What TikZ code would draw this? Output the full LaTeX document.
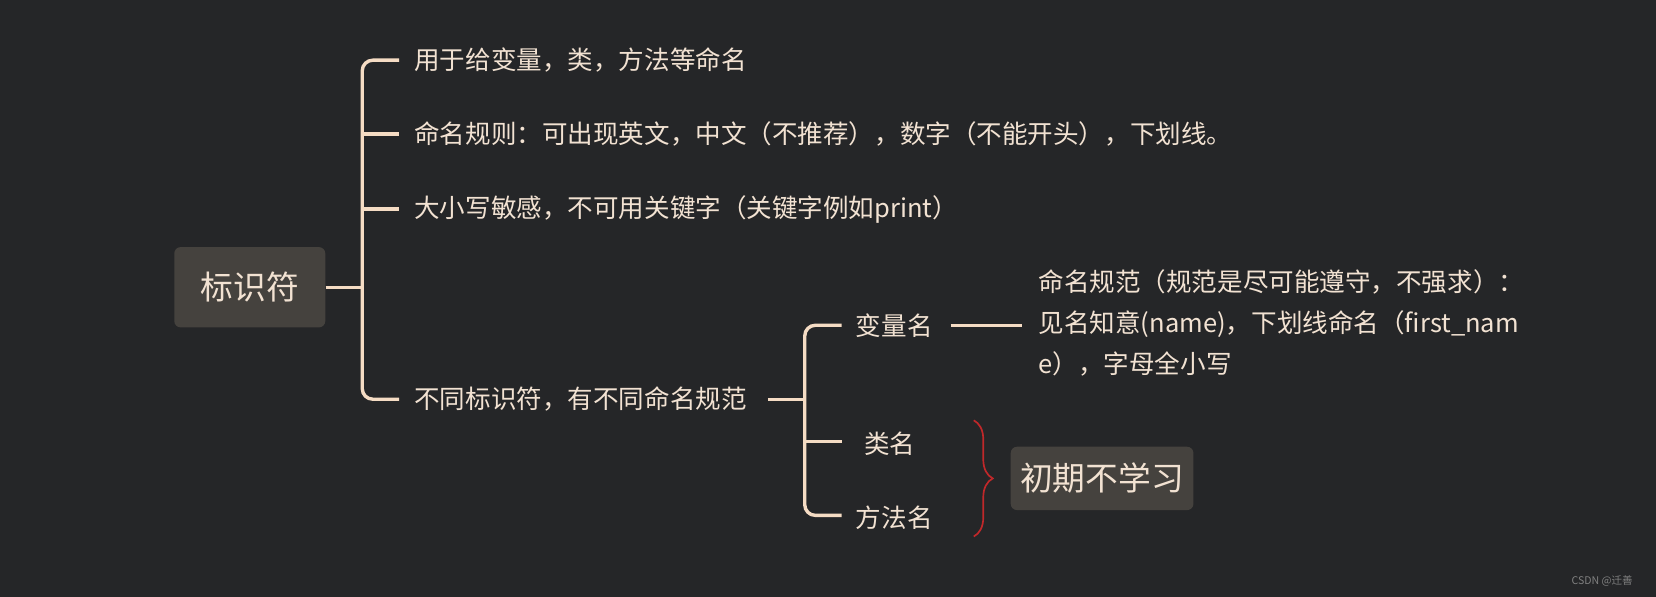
\documentclass[tikz,border=0pt]{standalone}
\usepackage{fontspec}
\setmainfont{Noto Sans CJK SC}
\usetikzlibrary{decorations.pathreplacing}
\definecolor{bg}{HTML}{252628}
\definecolor{ln}{HTML}{F5DCC4}
\definecolor{tx}{HTML}{F2E2D2}
\definecolor{bx}{HTML}{45423E}
\definecolor{rd}{HTML}{C0282A}
\begin{document}
\begin{tikzpicture}[x=0.5pt,y=-0.5pt,
  lnk/.style={draw=ln,line width=1.6pt,rounded corners=5pt},
  lbl/.style={text=tx,font=\fontsize{12.1}{14}\selectfont,anchor=west,inner sep=0pt},
  rootbox/.style={fill=bx,rounded corners=3pt,text=tx,font=\fontsize{15.5}{17}\selectfont,inner sep=0pt}]
\fill[bg] (0,0) rectangle (1568,565);
\useasboundingbox (0,0) rectangle (1568,565);
\node[rootbox,minimum width=71.5pt,minimum height=38pt] (root) at (236.5,272) {标识符};
\node[lbl] (a) at (392,57) {用于给变量，类，方法等命名};
\node[lbl] (b) at (392,127) {命名规则：可出现英文，中文（不推荐），数字（不能开头），下划线。};
\node[lbl] (c) at (392,198) {大小写敏感，不可用关键字（关键字例如print）};
\node[lbl] (d) at (392,378) {不同标识符，有不同命名规范};
\coordinate (t) at (343,272);
\draw[lnk] (root.east) -- (t);
\draw[lnk] (378,57) -- (343,57) -- (343,378) -- (378,378);
\draw[lnk] (343,127) -- (378,127);
\draw[lnk] (343,198) -- (378,198);
\node[lbl] (v) at (810,308) {变量名};
\node[lbl] (l) at (818,420) {类名};
\node[lbl] (m) at (810,490) {方法名};
\draw[lnk] (727,378) -- (762,378);
\draw[lnk] (797,308) -- (762,308) -- (762,488) -- (797,488);
\draw[lnk] (762,418) -- (797,418);
\draw[lnk] (900,308) -- (968,308);
\node[lbl,anchor=north west,align=left,font=\fontsize{12.1}{19.5}\selectfont] (n) at (983,255) {命名规范（规范是尽可能遵守，不强求）：\\见名知意(name)，下划线命名（first\_nam\\e），字母全小写};
\draw[rd,line width=0.8pt,decorate,decoration={brace,amplitude=9pt}] (922,398) -- (922,508);
\node[rootbox,minimum width=86.5pt,minimum height=30pt] (p) at (1043.5,453) {初期不学习};
\node[text=gray,font=\fontsize{5}{6}\selectfont,anchor=east] (w) at (1553,550) {CSDN @迁善};
\end{tikzpicture}
\end{document}
